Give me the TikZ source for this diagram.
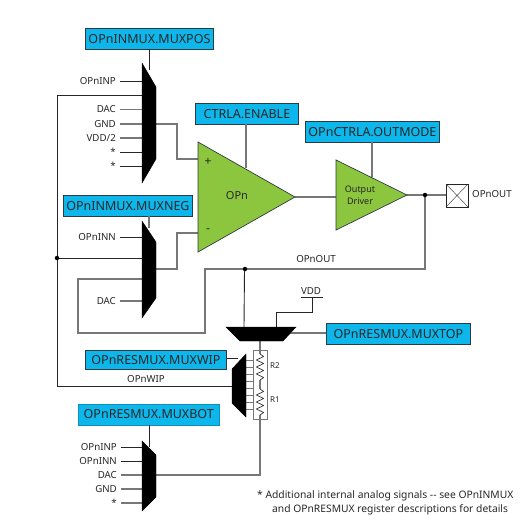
\documentclass[tikz,border=0pt]{standalone}
\usepackage{fontspec}
\setmainfont{Noto Sans}
\definecolor{regblue}{HTML}{0DB7EC}
\definecolor{opgreen}{HTML}{8CC63F}
\definecolor{edgedark}{HTML}{2F3A40}
\definecolor{wiregray}{HTML}{777777}
\tikzset{
  regbox/.style={draw=edgedark,line width=0.9pt,fill=regblue,minimum height=20.5pt,inner sep=0pt,anchor=north west,font=\fontsize{12.5}{14}\selectfont,text=black!85},
  regflat/.style={regbox,draw=regblue!80!black,line width=0.5pt},
  siglabel/.style={font=\fontsize{9.7}{11}\selectfont,inner sep=4pt,text=black!85},
  wirelabel/.style={font=\fontsize{9.7}{11}\selectfont,inner sep=0pt,text=black!85},
  notelabel/.style={font=\fontsize{10.3}{12}\selectfont,inner sep=0pt,text=black!85},
  tinylabel/.style={font=\fontsize{8}{9}\selectfont,inner sep=0pt,text=black!85},
  wire/.style={draw=black!85,line width=0.9pt},
  wireg/.style={draw=wiregray,line width=1.1pt},
  muxshape/.style={fill=black,draw=black,line width=0.4pt,line join=miter},
  ampshape/.style={fill=opgreen,draw=edgedark,line width=0.7pt},
  junction/.style={circle,fill=black,inner sep=0pt,minimum size=4.5pt},
}
\begin{document}
\begin{tikzpicture}[x=1pt,y=-1pt]
\useasboundingbox (0,0) rectangle (531,531);
\fill[white] (0,0) rectangle (531,531);

% register boxes
\node[regbox,minimum width=128pt] (rPos) at (85,28) {OPnINMUX.MUXPOS};
\node[regbox,minimum width=129pt] (rNeg) at (63,195) {OPnINMUX.MUXNEG};
\node[regbox,minimum width=103pt] (rEn) at (195,103) {CTRLA.ENABLE};
\node[regbox,minimum width=134pt] (rMode) at (305,121) {OPnCTRLA.OUTMODE};
\node[regbox,minimum width=144pt] (rTop) at (326,323) {OPnRESMUX.MUXTOP};
\node[regbox,minimum width=141pt,minimum height=19pt] (rWip) at (85,350) {OPnRESMUX.MUXWIP};
\node[regflat,minimum width=141pt] (rBot) at (78,404) {OPnRESMUX.MUXBOT};

% anchor points
\coordinate (posL) at (142,124);
\coordinate (posR) at (156,124);
\coordinate (posTop) at (149,70);
\coordinate (negL) at (142,258);
\coordinate (negR) at (156,269);
\coordinate (negTop) at (149,228);
\coordinate (botL) at (142,475);
\coordinate (botR) at (156,475);
\coordinate (botTop) at (149,447);
\coordinate (wipL) at (232,386);
\coordinate (wipR) at (246,386);
\coordinate (wipTop) at (238,358);
\coordinate (topT1) at (244,327);
\coordinate (topT2) at (276,327);
\coordinate (topB) at (260,341);
\coordinate (topR) at (290,333);
\coordinate (ampP) at (198,159);
\coordinate (ampN) at (198,233);
\coordinate (ampOut) at (295,197);
\coordinate (ampEn) at (246,168);
\coordinate (drvIn) at (336,197);
\coordinate (drvOut) at (407,195);
\coordinate (drvEn) at (372,177);
\coordinate (fb1) at (205,269);
\coordinate (fb2) at (205,333);
\coordinate (fb3) at (78,333);
\coordinate (fb4) at (78,279);
\coordinate (lft) at (57,95);
\coordinate (lftB) at (57,386);
\coordinate (vddBar) at (312,297);
\coordinate (vddKnee) at (312,312);
\coordinate (resTop) at (260,354);
\coordinate (resMidA) at (260,380);
\coordinate (resMidB) at (260,389);
\coordinate (resBot) at (260,415);
\coordinate (resCorner) at (260,475);

% input labels
\node[siglabel,anchor=east] (pInp) at (120,81) {OPnINP};
\node[siglabel,anchor=east] (pDac) at (120,109.5) {DAC};
\node[siglabel,anchor=east] (pGnd) at (120,124) {GND};
\node[siglabel,anchor=east] (pVdd) at (120,138) {VDD/2};
\node[siglabel,anchor=east] (pS1) at (120,152) {*};
\node[siglabel,anchor=east] (pS2) at (120,166) {*};
\node[siglabel,anchor=east] (nInn) at (120,237) {OPnINN};
\node[siglabel,anchor=east] (nDac) at (120,301) {DAC};
\node[siglabel,anchor=east] (bInp) at (121,447) {OPnINP};
\node[siglabel,anchor=east] (bInn) at (121,461) {OPnINN};
\node[siglabel,anchor=east] (bDac) at (121,475) {DAC};
\node[siglabel,anchor=east] (bGnd) at (121,489) {GND};
\node[siglabel,anchor=east] (bS) at (121,503) {*};

% resistor ladder housing
\node[draw=wiregray,line width=1pt,fill=white,minimum width=14pt,minimum height=69pt,inner sep=0pt] (ladder) at (260,384.5) {};

% wires
\draw[wire] (pInp.east) -- (pInp.east -| posL);
\draw[wireg] (pDac.east) -- (pDac.east -| posL);
\draw[wireg] (pGnd.east) -- (pGnd.east -| posL);
\draw[wireg] (pVdd.east) -- (pVdd.east -| posL);
\draw[wire] (pS1.east) -- (pS1.east -| posL);
\draw[wire] (pS2.east) -- (pS2.east -| posL);
\draw[wire] (nInn.east) -- (nInn.east -| negL);
\draw[wireg] (nDac.east) -- (nDac.east -| negL);
\draw[wire] (bInp.east) -- (bInp.east -| botL);
\draw[wire] (bInn.east) -- (bInn.east -| botL);
\draw[wireg] (bDac.east) -- (bDac.east -| botL);
\draw[wireg] (bGnd.east) -- (bGnd.east -| botL);
\draw[wireg] (bS.east) -- (bS.east -| botL);

\draw[wire] (rPos.south -| posTop) -- (posTop);
\draw[wireg] (rNeg.south -| negTop) -- (negTop);
\draw[wire] (rBot.south -| botTop) -- (botTop);
\draw[wireg] (rEn.south -| ampEn) -- (ampEn);
\draw[wireg] (rMode.south -| drvEn) -- (drvEn);
\draw[wire] (rWip.east |- wipTop) -- (wipTop);
\draw[wireg] (rTop.west |- topR) -- (topR);

\draw[wire] (lft) -- (lftB) -- (wipL);
\draw[wire] (lft) -- (lft -| posL);
\draw[wire] (negL -| lft) -- (negL);
\draw[wireg] (posR) -| (177,159) -- (ampP);
\draw[wireg] (negR) -| (177,233) -- (ampN);
\draw[wireg] (ampOut) -- (drvIn);
\draw[wireg] (drvOut) -- (446,195);
\draw[wireg] (425,195) |- (fb1) -- (fb2) -- (fb3) -- (fb4) -- (fb4 -| negL);
\draw[wire] (244.5,269) -- (topT1);
\draw[wire] (vddBar) -- (vddKnee) -| (topT2);
\draw[wire] (301,297) -- (323,297);
\draw[wireg] (topB) -- (resTop);
\draw[wireg] (resMidA) -- (resMidB);
\draw[wireg] (resBot) -- (resCorner) -- (botR);

% wiper taps
\foreach \ty in {360,367.3,374.3,381.3,388.3,395.3,402.3,409.3}
  \draw[wireg,line width=1pt] (wipR |- 0,\ty) -- (ladder.west |- 0,\ty);

% resistors
\draw[black!80,line width=0.7pt,line join=round] (resTop) -- (263.7,356.5) -- (256.3,360) -- (263.7,363.5) -- (256.3,367) -- (263.7,370.5) -- (256.3,374) -- (263.7,377.5) -- (resMidA);
\draw[black!80,line width=0.7pt,line join=round] (resMidB) -- (263.7,391.5) -- (256.3,395) -- (263.7,398.5) -- (256.3,402) -- (263.7,405.5) -- (256.3,409) -- (263.7,412.5) -- (resBot);

% muxes
\draw[muxshape] (142,63) -- (156,87) -- (156,159) -- (142,183) -- cycle;
\draw[muxshape] (142,221) -- (156,242) -- (156,298) -- (142,318) -- cycle;
\draw[muxshape] (142,441) -- (156,455) -- (156,497) -- (142,511) -- cycle;
\draw[muxshape] (246,354) -- (232,369) -- (232,403) -- (246,417) -- cycle;
\draw[muxshape] (226,327) -- (296,327) -- (283,341) -- (240,341) -- cycle;

% amplifiers
\draw[ampshape] (198,142) -- (ampOut) -- (198,252) -- cycle;
\draw[ampshape] (336,160) -- (drvOut) -- (336,230) -- cycle;

% junctions
\node[junction] (j1) at (425,195) {};
\node[junction] (j2) at (245,269) {};
\node[junction] (j3) at (57,258) {};

% output pad
\node[draw=black!85,line width=0.9pt,fill=white,minimum width=22pt,minimum height=23pt,inner sep=0pt,path picture={\draw[black!70,line width=0.5pt] (path picture bounding box.north west) -- (path picture bounding box.south east) (path picture bounding box.north east) -- (path picture bounding box.south west);}] (pad) at (457,195.5) {};

% texts
\node[wirelabel,anchor=west] (tOut) at (472,194) {OPnOUT};
\node[wirelabel] (tOut2) at (316,259) {OPnOUT};
\node[wirelabel] (tWip) at (146,379) {OPnWIP};
\node[wirelabel] (tVdd) at (311,291) {VDD};
\node[tinylabel] (tR2) at (275,366) {R2};
\node[tinylabel] (tR1) at (275,400) {R1};
\node[inner sep=0pt,font=\fontsize{12}{13}\selectfont,text=black!85] (tPlus) at (208,162) {+};
\node[inner sep=0pt,font=\fontsize{12}{13}\selectfont,text=black!85] (tMinus) at (208,231) {-};
\node[inner sep=0pt,font=\fontsize{11}{12}\selectfont,text=black!85] (tOpn) at (237,196) {OPn};
\node[inner sep=0pt,align=center,font=\fontsize{9}{12}\selectfont,text=black!85] (tDrv) at (360,195) {Output\\Driver};
\node[notelabel,anchor=west] (tNote1) at (257,496) {* Additional internal analog signals -{}- see OPnINMUX};
\node[notelabel,anchor=west] (tNote2) at (272,510) {and OPnRESMUX register descriptions for details};
\end{tikzpicture}
\end{document}
